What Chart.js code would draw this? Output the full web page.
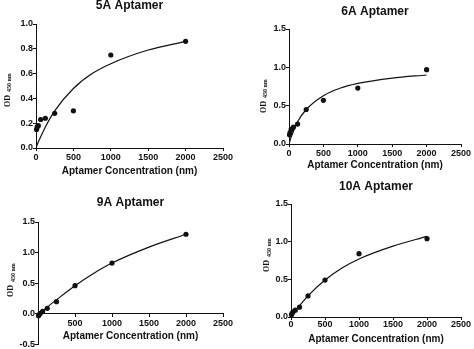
<!DOCTYPE html>
<html>
<head>
<meta charset="utf-8">
<script src="https://cdn.jsdelivr.net/npm/chart.js@4.4.1/dist/chart.umd.min.js"></script>
<style>
  html, body { margin: 0; padding: 0; background: #fff; }
  #wrap { position: relative; width: 474px; height: 349px; overflow: hidden; }
  #wrap canvas { position: absolute; }
</style>
</head>
<body>
<div id="wrap">
  <canvas id="p5a"></canvas>
  <canvas id="p6a"></canvas>
  <canvas id="p9a"></canvas>
  <canvas id="p10a"></canvas>
</div>
<script>
// aptamer concentrations (nM) used for every binding assay
const conc = [7.8, 15.6, 31.25, 62.5, 125, 250, 500, 1000, 2000];

// measured OD450 per aptamer
const od5A  = [0.15, 0.17, 0.18, 0.23, 0.24, 0.28, 0.30, 0.75, 0.86];
const od6A  = [0.12, 0.15, 0.19, 0.22, 0.26, 0.45, 0.57, 0.73, 0.97];
const od9A  = [-0.03, -0.01, 0.01, 0.04, 0.09, 0.20, 0.46, 0.83, 1.30];
const od10A = [0.03, 0.05, 0.07, 0.09, 0.13, 0.28, 0.49, 0.84, 1.04];

// saturation fit curves, sampled along x
const fitConc = [0, 31.25, 62.5, 125, 250, 500, 750, 1000, 1500, 2000];
const fit5A  = [0, 0.05, 0.09, 0.17, 0.30, 0.48, 0.60, 0.68, 0.79, 0.86];
const fit6A  = [0, 0.09, 0.16, 0.29, 0.45, 0.63, 0.73, 0.79, 0.86, 0.90];
const fit9A  = [-0.02, 0.01, 0.04, 0.11, 0.23, 0.46, 0.66, 0.83, 1.09, 1.30];
const fit10A = [0, 0.04, 0.08, 0.15, 0.28, 0.49, 0.65, 0.77, 0.94, 1.07];

// axis ticks
const xTicks = [0, 500, 1000, 1500, 2000, 2500];
const yTicks5A = [0, 0.2, 0.4, 0.6, 0.8, 1.0];
const yTicksStd = [0, 0.5, 1.0, 1.5];
const yTicks9A = [-0.5, 0, 0.5, 1.0, 1.5];

const INK = '#111';
const SANS = '"Liberation Sans", Arial, sans-serif';

// rotated "OD 450 nm" label with the wavelength as subscript
const odLabel = {
  id: 'odLabel',
  afterDraw(chart, args, opts) {
    const ctx = chart.ctx;
    ctx.save();
    ctx.translate(opts.x, opts.y);
    ctx.rotate(-Math.PI / 2);
    ctx.fillStyle = INK;
    ctx.textAlign = 'left';
    ctx.textBaseline = 'alphabetic';
    ctx.font = 'bold 8px "Liberation Serif", serif';
    ctx.fillText('OD', 0, 0);
    const w = ctx.measureText('OD').width;
    ctx.font = 'bold 6px "Liberation Serif", serif';
    ctx.fillText('450 nm', w + 3, 1.5);
    ctx.restore();
  }
};

function toPoints(xs, ys) {
  return xs.map((x, i) => ({ x: x, y: ys[i] }));
}

function buildPanel(id, title, pts, fit, yTicks, box) {
  const canvas = document.getElementById(id);
  canvas.width = box.w;
  canvas.height = box.h;
  canvas.style.left = box.left + 'px';
  canvas.style.top = box.top + 'px';
  canvas.style.width = box.w + 'px';
  canvas.style.height = box.h + 'px';

  const tickFont = { family: SANS, size: 9, weight: 'bold', lineHeight: 1 };
  const axisGrid = { display: true, drawOnChartArea: false, drawTicks: true, tickLength: 3, color: INK, lineWidth: 1 };

  const xScale = {
    type: 'linear',
    min: xTicks[0],
    max: xTicks[xTicks.length - 1],
    afterBuildTicks: s => { s.ticks = xTicks.map(v => ({ value: v })); },
    ticks: {
      font: tickFont, color: INK, padding: box.xTickPad, maxRotation: 0, autoSkip: false,
      callback: v => (box.hideZero && v === 0) ? '' : String(v)
    },
    grid: axisGrid,
    border: { display: true, color: INK, width: 1 },
    title: {
      display: true,
      text: 'Aptamer Concentration (nm)',
      font: { family: SANS, size: 10, weight: 'bold', lineHeight: 1 },
      color: INK,
      padding: { top: 0, bottom: box.xTitlePad }
    }
  };
  if (box.crossAtZero) {
    // x axis runs through y = 0, title hangs a fixed distance below it
    xScale.position = { y: 0 };
    xScale.afterUpdate = s => { s.top = s.bottom - box.xH; };
  } else {
    xScale.afterFit = s => { s.height = box.xH; };
  }

  return new Chart(canvas, {
    type: 'scatter',
    data: {
      datasets: [
        {
          data: toPoints(fitConc, fit),
          showLine: true,
          borderColor: INK,
          borderWidth: 1.2,
          pointRadius: 0,
          cubicInterpolationMode: 'monotone',
          fill: false
        },
        {
          data: toPoints(conc, pts),
          pointRadius: 2.6,
          pointBackgroundColor: INK,
          pointBorderWidth: 0,
          clip: false
        }
      ]
    },
    options: {
      responsive: false,
      animation: false,
      layout: { padding: box.pad },
      scales: {
        x: xScale,
        y: {
          type: 'linear',
          min: yTicks[0],
          max: yTicks[yTicks.length - 1],
          afterBuildTicks: s => { s.ticks = yTicks.map(v => ({ value: v })); },
          afterFit: s => { s.width = box.yW; },
          ticks: { font: tickFont, color: INK, padding: 0, callback: v => v.toFixed(1) },
          grid: axisGrid,
          border: { display: true, color: INK, width: 1 }
        }
      },
      plugins: {
        legend: { display: false },
        tooltip: { enabled: false },
        title: {
          display: true,
          text: title,
          fullSize: false,
          color: INK,
          font: { family: SANS, size: 12, weight: 'bold', lineHeight: 1 },
          padding: box.titlePad
        },
        odLabel: box.od
      }
    },
    plugins: [odLabel]
  });
}

buildPanel('p5a', '5A Aptamer', od5A, fit5A, yTicks5A, {
  left: 0, top: 0, w: 237, h: 178,
  pad: { left: 0, right: 14, top: 0, bottom: 0 },
  yW: 36, xH: 30, titlePad: { top: 0, bottom: 12 },
  xTickPad: 2.5, xTitlePad: 2, od: { x: 9.5, y: 107 }
});

buildPanel('p6a', '6A Aptamer', od6A, fit6A, yTicksStd, {
  left: 237, top: 0, w: 237, h: 178,
  pad: { left: 0, right: 13, top: 0, bottom: 0 },
  yW: 52, xH: 34, titlePad: { top: 6, bottom: 11 },
  xTickPad: 2, xTitlePad: 8, od: { x: 28.5, y: 113 }
});

buildPanel('p9a', '9A Aptamer', od9A, fit9A, yTicks9A, {
  left: 0, top: 175, w: 237, h: 174,
  pad: { left: 0, right: 14, top: 0, bottom: 4 },
  yW: 38, xH: 30, titlePad: { top: 22, bottom: 13 },
  xTickPad: 2.5, xTitlePad: 0, od: { x: 13, y: 122 },
  crossAtZero: true, hideZero: true
});

buildPanel('p10a', '10A Aptamer', od10A, fit10A, yTicksStd, {
  left: 237, top: 175, w: 237, h: 174,
  pad: { left: 0, right: 13, top: 0, bottom: 0 },
  yW: 54, xH: 32, titlePad: { top: 6, bottom: 11 },
  xTickPad: 0, xTitlePad: 5, od: { x: 32, y: 97 }
});
</script>
</body>
</html>
